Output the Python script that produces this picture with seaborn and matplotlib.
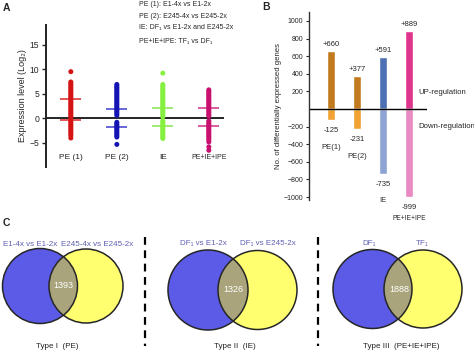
import numpy as np
import pandas as pd
import matplotlib
matplotlib.use('Agg')
import matplotlib.pyplot as plt
from matplotlib.patches import Ellipse
import seaborn as sns

sns.set_style('white')
plt.rcParams['font.family'] = ['Liberation Sans', 'DejaVu Sans']

# ---- panel A data: expression levels (log2) per comparison
groups_a = ['PE (1)', 'PE (2)', 'IE', 'PE+IE+IPE']
pe1_vals = [9.5, 7.4, 7.1, 6.8, 6.5, 6.2, 5.9, 5.6, 5.3, 5.0, 4.7, 4.4, 4.1, 3.8, 3.5, 3.2,
            2.9, 2.6, 2.3, 2.0, 1.7, 1.4, 1.1, 0.8, 0.5, 0.2, -0.4, -0.7, -1.0, -1.3, -1.6,
            -1.9, -2.2, -2.5, -2.8, -3.2, -3.5, -4.0]
pe2_vals = [6.9, 6.6, 6.3, 6.0, 5.7, 5.4, 5.1, 4.8, 4.5, 4.2, 3.9, 3.6, 3.3, 3.0, 2.7, 2.4,
            2.1, 1.8, 1.5, 1.2, 0.9, 0.6, -0.8, -1.1, -1.4, -1.7, -2.0, -2.3, -2.6, -2.9,
            -3.2, -3.5, -3.8, -5.3]
ie_vals = [9.2, 6.9, 6.6, 6.3, 6.0, 5.7, 5.4, 5.1, 4.8, 4.5, 4.2, 3.9, 3.6, 3.3, 3.0, 2.7,
           2.4, 2.1, 1.8, 1.5, 1.2, 0.9, 0.6, 0.3, -0.5, -0.8, -1.1, -1.4, -1.7, -2.0, -2.3,
           -2.6, -2.9, -3.2, -3.5, -3.8, -4.1]
comb_vals = [5.8, 5.5, 5.2, 4.9, 4.6, 4.3, 4.0, 3.7, 3.4, 3.1, 2.8, 2.5, 2.2, 1.9, 1.6, 1.3,
             1.0, 0.7, 0.5, -0.5, -0.8, -1.1, -1.4, -1.7, -2.0, -2.3, -2.6, -2.9, -3.2,
             -3.5, -3.8, -4.1, -4.4, -4.8, -5.8, -6.5]
up_mean_a = [3.9, 2.0, 2.2, 2.2]
down_mean_a = [-0.3, -1.7, -1.6, -1.6]
colors_a = ['#d41414', '#1414b4', '#86f040', '#c8106e']
line_colors_a = ['#e04848', '#5a5ad6', '#9ae868', '#d8509a']

legend_lines = ['PE (1): E1-4x vs E1-2x',
                'PE (2): E245-4x vs E245-2x',
                'IE: DF\u2081 vs E1-2x and E245-2x',
                'PE+IE+IPE: TF\u2081 vs DF\u2081']

# ---- panel B data: number of DEGs
cats_b = ['PE(1)', 'PE(2)', 'IE', 'PE+IE+IPE']
up_b = [660, 377, 591, 889]
down_b = [-125, -231, -735, -999]
up_colors = ['#c27a1e', '#c27a1e', '#4e6fb2', '#e0358c']
down_colors = ['#f0a232', '#f0a232', '#8ea4d4', '#ea8ac2']

# ---- panel C data: venn overlaps
venn_counts = [1393, 1326, 1888]
venn_left = ['E1-4x vs E1-2x', 'DF\u2081 vs E1-2x', 'DF\u2081']
venn_right = ['E245-4x vs E245-2x', 'DF\u2081 vs E245-2x', 'TF\u2081']
venn_titles = ['Type I  (PE)', 'Type II  (IE)', 'Type III  (PE+IE+IPE)']

W, H = 474, 351
fig = plt.figure(figsize=(W / 100, H / 100), dpi=100)


def fy(py):
    return 1 - py / H


# ---------------- panel C (pixel coordinate canvas)
axC = fig.add_axes([0, 0, 1, 1])
axC.set_xlim(0, W)
axC.set_ylim(H, 0)
axC.axis('off')
# layout: left circle (cx, w, h), right circle (cx, d), center y, label x's
venn_layout = [
    dict(lx=40, lw=75, lh=75, rx=86, rd=74, cy=286, tl=30, tr=97, tc=63, tt=57),
    dict(lx=208, lw=80, lh=80, rx=257.5, rd=79, cy=290, tl=203, tr=268, tc=233, tt=235),
    dict(lx=372.5, lw=79, lh=79, rx=423, rd=78, cy=289, tl=369, tr=422, tc=399, tt=401),
]
for i, lay in enumerate(venn_layout):
    left = Ellipse((lay['lx'], lay['cy']), lay['lw'], lay['lh'], fc='#5b5be8', ec='none')
    right = Ellipse((lay['rx'], lay['cy']), lay['rd'], lay['rd'], fc='#ffff70', ec='none')
    inter = Ellipse((lay['rx'], lay['cy']), lay['rd'], lay['rd'], fc='#aaa47c', ec='none')
    axC.add_patch(left)
    axC.add_patch(right)
    axC.add_patch(inter)
    inter.set_clip_path(left)
    axC.add_patch(Ellipse((lay['lx'], lay['cy']), lay['lw'], lay['lh'], fill=False,
                          ec='#262626', lw=1.1))
    axC.add_patch(Ellipse((lay['rx'], lay['cy']), lay['rd'], lay['rd'], fill=False,
                          ec='#262626', lw=1.1))
    axC.text(lay['tc'], lay['cy'], str(venn_counts[i]), color='white', fontsize=6.5,
             ha='center', va='center')
    axC.text(lay['tl'], 244, venn_left[i], color='#5f5fb4', fontsize=5.8, ha='center', va='center')
    axC.text(lay['tr'], 244, venn_right[i], color='#5f5fb4', fontsize=5.8, ha='center', va='center')
    axC.text(lay['tt'], 346, venn_titles[i], color='#222222', fontsize=5.8, ha='center', va='center')

for xs in [145, 318]:
    axC.plot([xs, xs], [237, 346], color='black', lw=1.6, ls=(0, (3.5, 2.5)))

# ---------------- panel A
df_a = pd.DataFrame({
    'group': sum([[g] * len(v) for g, v in zip(groups_a, [pe1_vals, pe2_vals, ie_vals, comb_vals])], []),
    'value': pe1_vals + pe2_vals + ie_vals + comb_vals,
})
axA = fig.add_axes([46 / W, fy(167), 178 / W, 142 / H])
axA.patch.set_alpha(0)
sns.stripplot(data=df_a, x='group', y='value', hue='group', palette=colors_a, jitter=False,
              size=3.6, linewidth=0, legend=False, ax=axA, order=groups_a)
for i in range(len(groups_a)):
    axA.hlines([up_mean_a[i], down_mean_a[i]], i - 0.23, i + 0.23, color=line_colors_a[i], lw=1.3)
axA.axhline(0, color='black', lw=1.2, zorder=0)
axA.set_xlim(-0.54, 3.33)
axA.set_ylim(-9.9, 19)
axA.set_yticks([-5, 0, 5, 10, 15])
axA.set_xticks([])
axA.set_xlabel('')
axA.set_ylabel('Expression level (Log\u2082)', fontsize=6.5, labelpad=2)
for s in ['top', 'right', 'bottom']:
    axA.spines[s].set_visible(False)
axA.spines['left'].set_linewidth(1.4)
axA.spines['left'].set_color('#222222')
axA.tick_params(axis='y', direction='out', length=3, width=1, labelsize=6.2, pad=2, left=True)
for i, g in enumerate(groups_a):
    axA.text(i, -7.9, g, ha='center', va='center', fontsize=6 if i < 3 else 5)
for j, t in enumerate(legend_lines):
    fig.text(139 / W, fy([5, 16, 27.5, 41][j]), t, fontsize=5, va='center')

# ---------------- panel B
axB = fig.add_axes([309 / W, fy(200), 118 / W, 188 / H])
axB.patch.set_alpha(0)
sns.barplot(x=cats_b, y=up_b, hue=cats_b, palette=up_colors, width=0.33, saturation=1,
            legend=False, ax=axB)
sns.barplot(x=cats_b, y=down_b, hue=cats_b, palette=down_colors, width=0.33, saturation=1,
            legend=False, ax=axB)
axB.axhline(0, color='black', lw=1)
axB.set_xlim(-0.85, 3.7)
axB.set_ylim(-1034, 1102)
axB.set_yticks([1000, 800, 600, 400, 200, -200, -400, -600, -800, -1000])
axB.set_xticks([])
axB.set_xlabel('')
axB.set_ylabel('No. of differentially expressed genes', fontsize=5.6, labelpad=1)
for s in ['top', 'right', 'bottom']:
    axB.spines[s].set_visible(False)
axB.spines['left'].set_linewidth(1)
axB.spines['left'].set_color('#333333')
axB.tick_params(axis='y', direction='out', length=2.5, width=0.8, labelsize=5, pad=1.5, left=True)
for i, c in enumerate(cats_b):
    axB.annotate(f'+{up_b[i]}', (i, up_b[i]), xytext=(0, 2), textcoords='offset points',
                 ha='center', va='bottom', fontsize=5.5)
    axB.annotate(f'{down_b[i]}', (i, down_b[i]), xytext=(0, -5), textcoords='offset points',
                 ha='center', va='top', fontsize=5.5)
    axB.annotate(c, (i, down_b[i]), xytext=(0, -17 if i < 3 else -13), textcoords='offset points',
                 ha='center', va='top', fontsize=5.5 if i < 3 else 4.8)
fig.text(418 / W, fy(93), 'UP-regulation', fontsize=5.6, va='center')
fig.text(418 / W, fy(126), 'Down-regulation', fontsize=5.6, va='center')

for lab, x, y in [('A', 3, 8), ('B', 262, 7), ('C', 3, 223)]:
    fig.text(x / W, fy(y), lab, fontsize=7.5, fontweight='bold', va='center')

fig.savefig('out.png', dpi=100)
